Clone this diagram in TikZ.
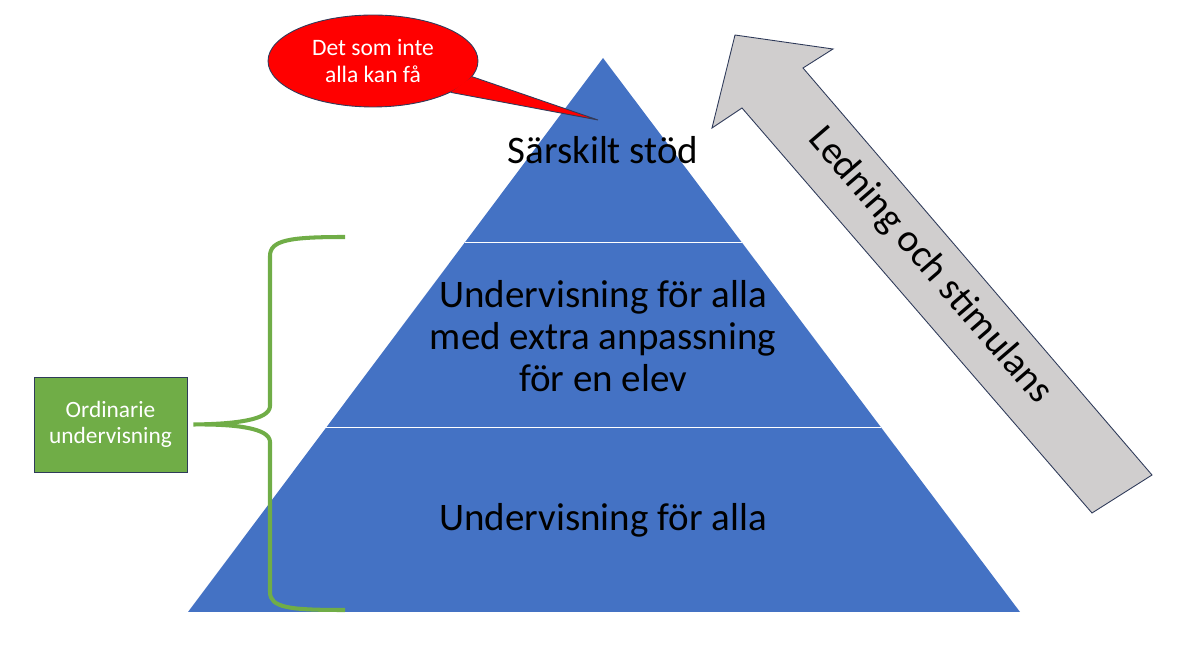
\documentclass[tikz,border=0pt]{standalone}
\usepackage{fontspec}
\setmainfont{Carlito}
\usepackage{xcolor}
\usepackage{tikz}
\usetikzlibrary{positioning,calc,shapes.geometric}
\definecolor{PyrBlue}{HTML}{4472C4}
\definecolor{CallRed}{HTML}{FF0000}
\definecolor{OrdGreen}{HTML}{70AD47}
\definecolor{ArrGray}{HTML}{D0CECE}
\definecolor{EdgeNavy}{HTML}{2F3B5A}

\begin{document}
\begin{tikzpicture}[
  x=0.02cm, y=-0.02cm,
  level/.style={font=\fontsize{22.2}{23.8}\selectfont,align=center,text=black,inner sep=0pt},
  bubble/.style={ellipse,draw=EdgeNavy,line width=0.5pt,fill=CallRed,text=white,align=center,
    minimum width=4.2cm,minimum height=1.84cm,inner sep=0pt,font=\fontsize{13.4}{15.9}\selectfont},
  ordbox/.style={draw=EdgeNavy,line width=0.5pt,fill=OrdGreen,text=white,align=center,
    minimum width=3.06cm,minimum height=1.9cm,inner sep=0pt,font=\fontsize{13.3}{14.7}\selectfont},
  brace/.style={draw=OrdGreen,line width=2.3pt}
]
\useasboundingbox (0,0) rectangle (1200,661);

% pyramid
\coordinate (ap) at (603,58);
\coordinate (bl) at (188,612);
\coordinate (br) at (1020,612);
\fill[PyrBlue] (ap) -- (bl) -- (br) -- cycle;
\draw[white,line width=0.6pt] ($(ap)!1/3!(bl)$) -- ($(ap)!1/3!(br)$);
\draw[white,line width=0.6pt] ($(ap)!2/3!(bl)$) -- ($(ap)!2/3!(br)$);

\node[level] (s1) at (603,150) {Särskilt stöd};
\node[level] (s2) at (603,336) {Undervisning för alla\\med extra anpassning\\för en elev};
\node[level] (s3) at (603,520) {Undervisning för alla};

% callout with tail
\node[bubble] (b1) at (373,61) {Det som inte\\alla kan få};
\coordinate (tp) at (598,120);
\fill[CallRed] (b1.-9) -- (tp) -- (b1.-22) -- cycle;
\draw[EdgeNavy,line width=0.5pt] (b1.-9) -- (tp) -- (b1.-22);

% big arrow
\draw[EdgeNavy,line width=0.5pt,fill=ArrGray]
  (735,35) -- (833,49) -- (803,68) -- (1152,475) -- (1092,513) -- (742,108) -- (712,128) -- cycle;
\node[level,rotate=-49.2] (ls) at (930,266) {Ledning och stimulans};

% green box and brace
\node[ordbox] (g1) at (110.5,424.5) {Ordinarie\\undervisning};
\coordinate (bt) at (345,237);
\coordinate (bb) at (345,610);
\draw[brace] (bt) .. controls (290,237) and (270,240) .. (270,256) -- (270,406)
  .. controls (270,420) and (235,424) .. ([xshift=0.12cm]g1.east)
  .. controls (235,424) and (270,428) .. (270,442) -- (270,592)
  .. controls (270,608) and (290,610) .. (bb);
\end{tikzpicture}
\end{document}
